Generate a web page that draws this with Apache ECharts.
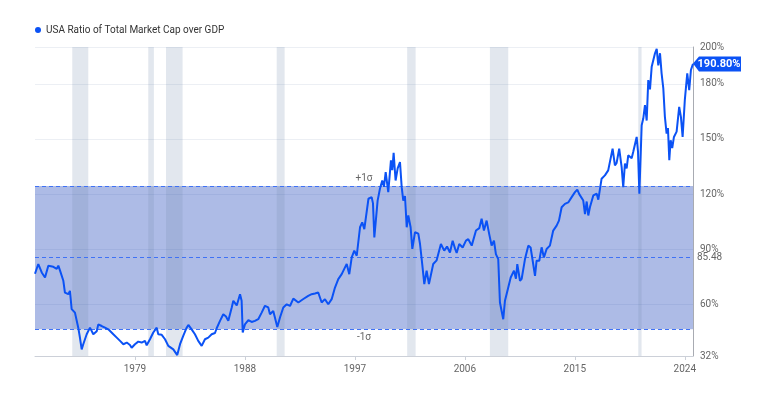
<!DOCTYPE html>
<html>
<head>
<meta charset="utf-8">
<title>USA Ratio of Total Market Cap over GDP</title>
<script src="https://cdn.jsdelivr.net/npm/echarts@6/dist/echarts.min.js"></script>
<style>
  html, body { margin: 0; padding: 0; background: #fff; }
  #chart { width: 768px; height: 404px; }
</style>
</head>
<body>
<div id="chart"></div>
<script>
// 数据：年份（小数年）与市值/GDP比率(%)
const years = [
  1970.82, 1971.09, 1971.37, 1971.64, 1971.91, 1972.32, 1972.60, 1972.73, 1972.87, 1973.14,
  1973.27, 1973.55, 1973.68, 1973.82, 1974.09, 1974.36, 1974.50, 1974.64, 1974.77, 1974.91,
  1975.05, 1975.32, 1975.46, 1975.59, 1975.87, 1976.00, 1976.28, 1976.55, 1976.82, 1976.96,
  1977.23, 1977.51, 1977.78, 1978.05, 1978.33, 1978.59, 1978.73, 1979.00, 1979.27, 1979.55,
  1979.82, 1979.96, 1980.23, 1980.50, 1980.78, 1980.91, 1981.19, 1981.46, 1981.73, 1982.14,
  1982.46, 1982.69, 1982.96, 1983.23, 1983.37, 1983.64, 1983.91, 1984.18, 1984.46, 1984.73,
  1985.00, 1985.28, 1985.55, 1985.69, 1985.96, 1986.23, 1986.45, 1986.64, 1986.92, 1987.05,
  1987.33, 1987.60, 1987.73, 1987.82, 1988.00, 1988.28, 1988.55, 1988.82, 1989.09, 1989.37,
  1989.64, 1989.91, 1990.05, 1990.32, 1990.65, 1990.87, 1991.14, 1991.42, 1991.69, 1991.96,
  1992.37, 1992.78, 1993.18,
  1993.46, 1993.73, 1994.00, 1994.28, 1994.55, 1994.82, 1995.10, 1995.37, 1995.64, 1995.92,
  1996.19, 1996.33, 1996.54, 1996.74, 1996.95, 1997.15, 1997.42, 1997.60, 1997.77, 1998.11,
  1998.37, 1998.48, 1998.59, 1998.86, 1999.05, 1999.24, 1999.38, 1999.52, 1999.73, 1999.95,
  2000.06, 2000.17, 2000.33, 2000.50, 2000.69, 2000.83, 2000.96, 2001.10, 2001.24, 2001.37,
  2001.56, 2001.70, 2001.92, 2002.19, 2002.33, 2002.51, 2002.68, 2002.87, 2003.06, 2003.41,
  2003.69, 2004.04, 2004.31,
  2004.54, 2004.78, 2005.00, 2005.19, 2005.33, 2005.54, 2005.82, 2006.09, 2006.28, 2006.56,
  2006.91, 2007.18, 2007.37, 2007.56, 2007.78, 2008.00, 2008.19, 2008.38, 2008.54, 2008.73,
  2008.87, 2009.01, 2009.14, 2009.28, 2009.55, 2009.75, 2009.91, 2010.02, 2010.18, 2010.29,
  2010.51, 2010.65, 2010.92, 2011.19, 2011.38, 2011.55, 2011.74, 2011.87, 2012.09, 2012.28,
  2012.47, 2012.69, 2012.96, 2013.23, 2013.51, 2013.70, 2013.92, 2014.19, 2014.46, 2014.74,
  2015.01, 2015.20, 2015.36,
  2015.69, 2015.83, 2015.97, 2016.10, 2016.24, 2016.51, 2016.79, 2016.92, 2017.19, 2017.46,
  2017.73, 2018.09, 2018.28, 2018.42, 2018.63, 2018.83, 2018.96, 2019.10, 2019.24, 2019.37,
  2019.65, 2019.78, 2020.06, 2020.17, 2020.28, 2020.47, 2020.60, 2020.74, 2020.88, 2021.01,
  2021.15, 2021.29, 2021.56, 2021.70, 2021.83, 2021.97, 2022.10, 2022.24, 2022.37, 2022.51,
  2022.62, 2022.73, 2022.84, 2022.97, 2023.11, 2023.33, 2023.54, 2023.68, 2023.82, 2024.00,
  2024.20, 2024.36, 2024.50, 2024.67
]
const ratios = [
  76.7, 82.0, 77.4, 74.7, 81.1, 80.5, 79.4, 81.1, 78.4, 72.9,
  66.5, 65.6, 67.4, 57.5, 55.6, 47.4, 41.9, 35.6, 38.4, 37.4,
  43.8, 47.4, 46.5, 43.8, 45.5, 49.2, 48.3, 47.4, 46.5, 47.4,
  43.8, 42.0, 40.2, 38.4, 39.3, 38.0, 36.5, 38.4, 39.8, 39.3,
  40.2, 37.8, 41.1, 44.8, 47.4, 43.8, 43.5, 41.1, 37.5, 35.6,
  32.5, 38.4, 43.1, 47.4, 48.9, 46.5, 43.8, 40.2, 37.5, 41.1,
  42.0, 43.8, 44.5, 47.1, 51.1, 54.7, 53.5, 51.1, 58.4, 62.0,
  59.5, 65.6, 62.0, 44.8, 49.2, 51.5, 50.5, 51.1, 52.0, 55.6,
  59.3, 58.4, 54.7, 56.5, 47.8, 52.9, 58.4, 60.1, 59.2, 63.2,
  61.1, 63.0, 64.7,
  65.6, 66.0, 66.5, 61.1, 62.9, 60.1, 62.9, 69.2, 73.8, 76.5,
  80.2, 82.0, 76.5, 85.6, 89.3, 86.5, 102.0, 104.7, 101.0, 117.5,
  118.4, 115.0, 96.5, 116.5, 122.9, 127.4, 124.0, 132.0, 121.1, 138.4,
  133.0, 142.4, 127.4, 134.0, 137.4, 123.8, 116.5, 119.0, 102.0, 108.4,
  102.0, 90.2, 99.3, 98.5, 92.9, 82.0, 71.1, 78.4, 71.1, 82.0,
  84.0, 92.9, 89.3,
  91.5, 88.3, 94.7, 90.5, 88.0, 92.9, 91.0, 94.7, 95.5, 92.0,
  100.2, 101.5, 106.6, 100.2, 105.6, 98.0, 92.0, 94.7, 87.4, 84.7,
  61.1, 60.5, 52.0, 62.0, 69.2, 74.7, 75.5, 78.4, 74.0, 82.0,
  72.9, 74.0, 84.7, 92.0, 91.0, 83.8, 75.6, 83.8, 83.8, 91.1,
  85.6, 90.2, 92.0, 100.2, 102.9, 105.6, 112.9, 114.7, 115.5, 118.4,
  121.1, 122.5, 120.0,
  116.5, 109.2, 116.0, 108.4, 113.0, 119.3, 120.2, 117.0, 128.4, 130.2,
  132.9, 144.7, 135.6, 137.0, 144.7, 134.7, 123.8, 136.6, 134.0, 141.1,
  139.5, 143.0, 151.1, 143.0, 120.2, 157.5, 161.1, 168.4, 160.0, 182.0,
  177.0, 189.3, 196.6, 199.0, 190.0, 196.6, 185.7, 177.5, 162.0, 152.9,
  156.0, 138.4, 149.3, 145.0, 151.1, 154.0, 167.4, 162.0, 151.1, 171.1,
  185.7, 176.5, 187.5, 190.8
]

// 刻度
const xTickYears = [1979, 1988, 1997, 2006, 2015, 2024]
const yTickValues = [32, 60, 90, 120, 150, 180, 200]

// 衰退期（阴影）
const recessionStarts = [1973.87, 1980.09, 1981.54, 1990.60, 2001.28, 2008.05, 2020.19]
const recessionEnds = [1975.18, 1980.55, 1982.90, 1991.25, 2001.97, 2009.55, 2020.46]

// 均值与标准差
const meanRatio = 85.48
const sigma = 38.9

const SERIES_NAME = 'USA Ratio of Total Market Cap over GDP'
const LINE_COLOR = '#0b52f5'
const TEXT_COLOR = '#666'
const FONT = 'Roboto, "Noto Sans", sans-serif'

let chart = echarts.init(document.getElementById('chart'), null, { renderer: 'canvas' })

const lineData = years.map((y, i) => [y, ratios[i]])
const lastIndex = years.length - 1

// 标准差区间 + 衰退期
const areaData = [
  [{ yAxis: meanRatio - sigma, itemStyle: { color: 'rgba(40,75,190,0.38)' } }, { yAxis: meanRatio + sigma }]
]
for (let i = 0; i < recessionStarts.length; i++) {
  areaData.push([
    { xAxis: recessionStarts[i], itemStyle: { color: 'rgba(110,135,170,0.2)' } },
    { xAxis: recessionEnds[i] }
  ])
}

let option = {
  animation: false,
  textStyle: { fontFamily: FONT },
  legend: {
    data: [SERIES_NAME],
    left: 30,
    top: 20,
    icon: 'circle',
    itemWidth: 6,
    itemHeight: 6,
    itemGap: 5,
    textStyle: { color: '#333', fontSize: 10, fontFamily: FONT }
  },
  grid: {
    left: 35,
    right: 75,
    top: 47,
    bottom: 48
  },
  xAxis: {
    type: 'value',
    min: years[0],
    max: years[lastIndex],
    axisLine: { show: true, lineStyle: { color: '#ccd0d8' } },
    axisTick: {
      show: true,
      customValues: xTickYears,
      length: 4,
      lineStyle: { color: '#ccd0d8' }
    },
    axisLabel: {
      customValues: xTickYears,
      color: TEXT_COLOR,
      fontSize: 10,
      margin: 8,
      formatter: (v) => String(Math.round(v))
    },
    splitLine: { show: false }
  },
  yAxis: {
    type: 'value',
    position: 'right',
    min: 32,
    max: 200,
    axisLine: { show: true, lineStyle: { color: '#a8abb2' } },
    axisTick: { show: false, customValues: yTickValues },
    axisLabel: {
      customValues: yTickValues,
      color: TEXT_COLOR,
      fontSize: 10,
      margin: 7,
      formatter: '{value}%'
    },
    splitLine: { show: true, lineStyle: { color: '#eceff4', width: 1 } }
  },
  series: [
    {
      name: SERIES_NAME,
      type: 'line',
      data: lineData,
      showSymbol: false,
      symbol: 'none',
      color: LINE_COLOR,
      lineStyle: { color: LINE_COLOR, width: 2 },
      z: 5,
      markArea: {
        silent: true,
        label: { show: false },
        data: areaData
      },
      markLine: {
        silent: true,
        symbol: ['none', 'none'],
        lineStyle: { color: '#3f72f5', width: 1, type: [4, 3] },
        label: { color: TEXT_COLOR, fontSize: 10, fontFamily: FONT },
        data: [
          { yAxis: meanRatio + sigma, label: { formatter: '+1σ', position: 'insideMiddleTop', distance: 3 } },
          { yAxis: meanRatio, label: { formatter: meanRatio.toFixed(2), position: 'end', distance: 4 } },
          { yAxis: meanRatio - sigma, label: { formatter: '-1σ', position: 'insideMiddleBottom', distance: 3 } }
        ]
      },
      markPoint: {
        silent: true,
        symbol: 'path://M0,7 L6,0 L48,0 L48,15 L6,15 Z',
        symbolSize: [48, 15],
        symbolKeepAspect: false,
        symbolOffset: [24, 0],
        itemStyle: { color: LINE_COLOR },
        label: {
          show: true,
          position: 'inside',
          offset: [2, 0],
          color: '#fff',
          fontSize: 11,
          fontWeight: 'bold',
          fontFamily: FONT
        },
        data: [
          { coord: [years[lastIndex], ratios[lastIndex]], value: ratios[lastIndex].toFixed(2) + '%' }
        ]
      }
    }
  ]
}

chart.setOption(option)
</script>
</body>
</html>
